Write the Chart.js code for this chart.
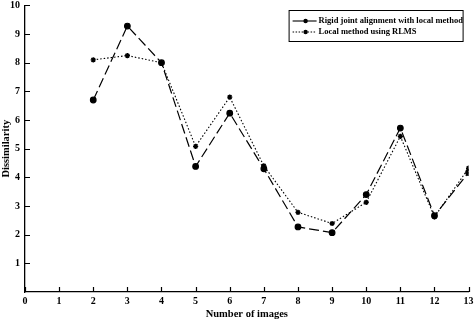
<!DOCTYPE html>
<html>
<head>
<meta charset="utf-8">
<script src="https://cdn.jsdelivr.net/npm/chart.js@4.4.1/dist/chart.umd.min.js"></script>
<style>
  html, body { margin: 0; padding: 0; background: #fff; }
  #wrap { width: 474px; height: 333px; }
</style>
</head>
<body>
<div id="wrap"><canvas id="dissimChart" width="474" height="333"></canvas></div>
<script>
// values
const imageCounts = [2, 3, 4, 5, 6, 7, 8, 9, 10, 11, 12, 13];
const rigidJoint = [6.7, 9.28, 8.0, 4.38, 6.24, 4.3, 2.27, 2.07, 3.4, 5.72, 2.66, 4.17];
const localRlms = [8.1, 8.25, 8.0, 5.08, 6.8, 4.4, 2.78, 2.39, 3.13, 5.43, 2.62, 4.32];
const seriesNames = ["Rigid joint alignment with local method", "Local method using RLMS"];
const xTicks = [0, 1, 2, 3, 4, 5, 6, 7, 8, 9, 10, 11, 12, 13];
const yTicks = [0, 1, 2, 3, 4, 5, 6, 7, 8, 9, 10];

const serif = "'Liberation Serif', 'Times New Roman', serif";

function toPoints(xs, ys) {
  return xs.map((x, i) => ({ x: x, y: ys[i] }));
}

// inward tick marks, like the original plot
const innerTicks = {
  id: "innerTicks",
  afterDraw(chart) {
    const ctx = chart.ctx;
    const xs = chart.scales.x, ys = chart.scales.y;
    ctx.save();
    ctx.strokeStyle = "#000";
    ctx.lineWidth = 1.2;
    ctx.beginPath();
    xTicks.forEach(v => {
      const px = Math.round(xs.getPixelForValue(v)) + 0.5;
      ctx.moveTo(px, ys.bottom);
      ctx.lineTo(px, ys.bottom - 5);
    });
    yTicks.slice(1).forEach(v => {
      const py = Math.round(ys.getPixelForValue(v)) + 0.5;
      ctx.moveTo(xs.left, py);
      ctx.lineTo(xs.left + 5, py);
    });
    ctx.stroke();
    ctx.restore();
  }
};

// boxed legend in the top right
const boxLegend = {
  id: "boxLegend",
  afterDraw(chart) {
    const ctx = chart.ctx;
    const area = chart.chartArea;
    const x0 = area.right - 180, y0 = 10, w = 174, h = 31;
    ctx.save();
    ctx.fillStyle = "#fff";
    ctx.fillRect(x0, y0, w, h);
    ctx.strokeStyle = "#000";
    ctx.lineWidth = 1;
    ctx.strokeRect(x0 + 0.5, y0 + 0.5, w, h);
    ctx.font = "bold 8.5px " + serif;
    ctx.textBaseline = "middle";
    chart.data.datasets.forEach((ds, i) => {
      const cy = y0 + 11 + i * 11;
      ctx.strokeStyle = "#000";
      ctx.lineWidth = 1.1;
      ctx.setLineDash(i === 0 ? [] : [1.5, 1.5]);
      ctx.beginPath();
      ctx.moveTo(x0 + 4, cy);
      ctx.lineTo(x0 + 28, cy);
      ctx.stroke();
      ctx.setLineDash([]);
      ctx.fillStyle = "#000";
      ctx.beginPath();
      ctx.arc(x0 + 17, cy, 2.2, 0, Math.PI * 2);
      ctx.fill();
      ctx.fillText(ds.label, x0 + 30, cy);
    });
    ctx.restore();
  }
};

new Chart(document.getElementById("dissimChart"), {
  type: "line",
  data: {
    datasets: [
      {
        label: seriesNames[0],
        data: toPoints(imageCounts, rigidJoint),
        borderColor: "#000",
        backgroundColor: "#000",
        borderWidth: 1.2,
        borderDash: [10, 4],
        pointStyle: "circle",
        pointRadius: 2.8,
        tension: 0
      },
      {
        label: seriesNames[1],
        data: toPoints(imageCounts, localRlms),
        borderColor: "#000",
        backgroundColor: "#000",
        borderWidth: 1.1,
        borderDash: [1.5, 2],
        pointStyle: "star",
        pointRadius: 2.6,
        pointBorderWidth: 1.4,
        tension: 0
      }
    ]
  },
  options: {
    responsive: false,
    animation: false,
    layout: { padding: { top: 5, right: 3, left: 0, bottom: 0 } },
    plugins: {
      legend: { display: false },
      tooltip: { enabled: false }
    },
    scales: {
      x: {
        type: "linear",
        min: 0,
        max: 13,
        afterBuildTicks(scale) { scale.ticks = xTicks.map(v => ({ value: v })); },
        afterFit(scale) {
          scale.height = 41;
          scale.paddingLeft = 0;
          scale.paddingRight = 0;
        },
        grid: { display: true, drawOnChartArea: false, drawTicks: false },
        border: { display: true, color: "#000", width: 1.3 },
        ticks: {
          color: "#000",
          padding: 3,
          maxRotation: 0,
          autoSkip: false,
          font: { family: serif, size: 10, weight: "bold" }
        },
        title: {
          display: true,
          text: "Number of images",
          color: "#000",
          padding: { top: 2, bottom: 12 },
          font: { family: serif, size: 10.5, weight: "bold" }
        }
      },
      y: {
        min: 0,
        max: 10,
        afterBuildTicks(scale) { scale.ticks = yTicks.map(v => ({ value: v })); },
        afterFit(scale) {
          scale.width = 25;
          scale.paddingTop = 0;
          scale.paddingBottom = 0;
        },
        grid: { display: true, drawOnChartArea: false, drawTicks: false },
        border: { display: true, color: "#000", width: 1.3 },
        ticks: {
          color: "#000",
          padding: 5,
          callback: v => (v === 0 ? "" : v),
          font: { family: serif, size: 10, weight: "bold" }
        },
        title: {
          display: true,
          text: "Dissimilarity",
          color: "#000",
          padding: { top: 0, bottom: 0 },
          font: { family: serif, size: 10.5, weight: "bold" }
        }
      }
    }
  },
  plugins: [innerTicks, boxLegend]
});
</script>
</body>
</html>
